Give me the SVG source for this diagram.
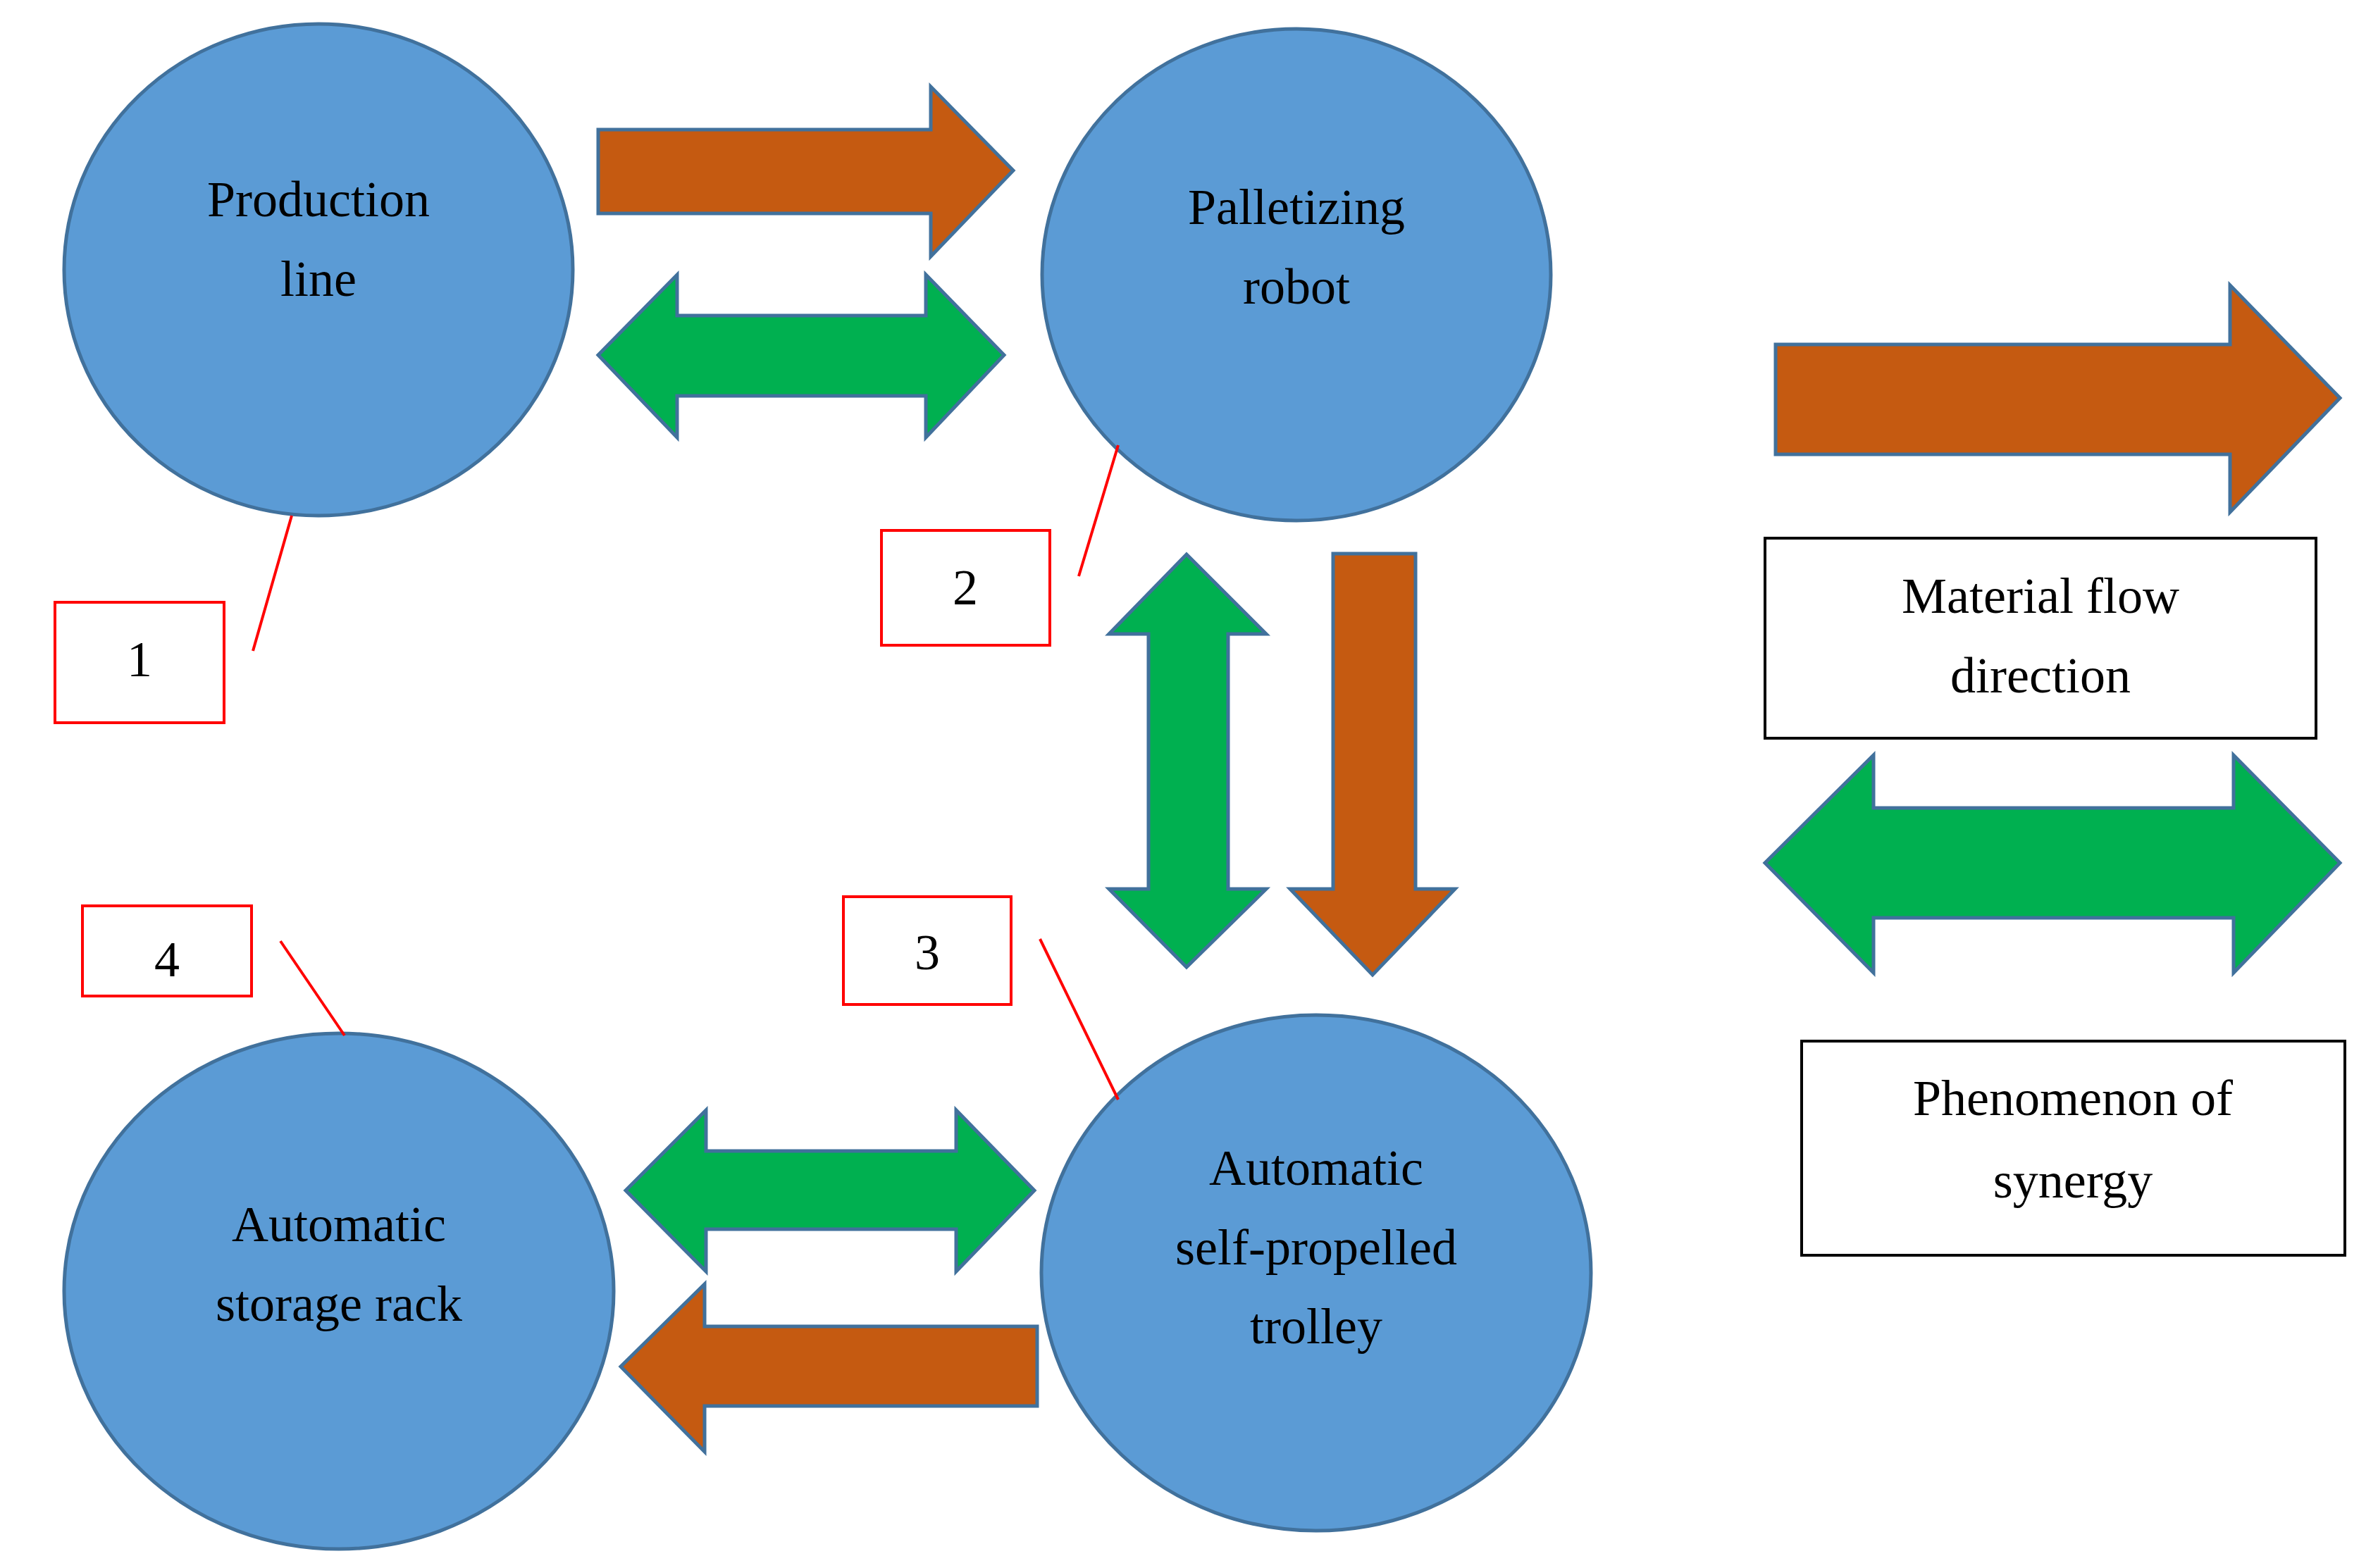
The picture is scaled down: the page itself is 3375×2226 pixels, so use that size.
<svg xmlns="http://www.w3.org/2000/svg" width="3375" height="2226" viewBox="0 0 3375 2226">
<style>
.n{fill:#5B9BD5;stroke:#41719C;stroke-width:5}
.b{fill:#C55A11;stroke:#41719C;stroke-width:5}
.g{fill:#00B050;stroke:#41719C;stroke-width:5}
.t{font-family:"Liberation Serif",serif;font-size:72px;text-anchor:middle;dominant-baseline:central;fill:#000}
.r{fill:#fff;stroke:#FF0000;stroke-width:4}
.l{stroke:#FF0000;stroke-width:4}
.k{fill:#fff;stroke:#000;stroke-width:4}
</style>
<rect width="3375" height="2226" fill="#fff"/>
<g id="n1"><ellipse class="n" cx="452" cy="383" rx="361" ry="349"/><text class="t" x="452" y="283">Production</text><text class="t" x="452" y="396">line</text></g>
<g id="n2"><ellipse class="n" cx="1840" cy="390" rx="361" ry="349"/><text class="t" x="1840" y="294">Palletizing</text><text class="t" x="1840" y="407">robot</text></g>
<g id="n3"><ellipse class="n" cx="1868" cy="1807" rx="390" ry="366"/><text class="t" x="1868" y="1658">Automatic</text><text class="t" x="1868" y="1771">self-propelled</text><text class="t" x="1868" y="1883">trolley</text></g>
<g id="n4"><ellipse class="n" cx="481" cy="1833" rx="390" ry="366"/><text class="t" x="481" y="1738">Automatic</text><text class="t" x="481" y="1851">storage rack</text></g>
<g id="connectors">
<polygon class="b" points="849,184 1321,184 1321,123 1438,242 1321,364 1321,303 849,303"/>
<polygon class="g" points="849,504 961,390 961,448 1314,448 1314,390 1425,504 1314,621 1314,562 961,562 961,621"/>
<polygon class="g" points="1684,787 1797,900 1743,900 1743,1262 1797,1262 1684,1373 1574,1262 1630,1262 1630,900 1574,900"/>
<polygon class="b" points="1892,786 2009,786 2009,1262 2065,1262 1948,1384 1831,1262 1892,1262"/>
<polygon class="g" points="888,1690 1002,1576 1002,1634 1357,1634 1357,1576 1468,1690 1357,1805 1357,1745 1002,1745 1002,1805"/>
<polygon class="b" points="1472,1883 1000,1883 1000,1823 881,1940 1000,2061 1000,1996 1472,1996"/>
<line class="l" x1="359" y1="924" x2="414" y2="732"/>
<line class="l" x1="1531" y1="818" x2="1587" y2="632"/>
<line class="l" x1="1476" y1="1333" x2="1587" y2="1561"/>
<line class="l" x1="398" y1="1336" x2="489" y2="1470"/>
</g>
<g id="label1"><rect class="r" x="78" y="855" width="240" height="171"/><text class="t" x="198" y="936" font-size="66">1</text></g>
<g id="label2"><rect class="r" x="1251" y="753" width="239" height="163"/><text class="t" x="1370" y="834" font-size="66">2</text></g>
<g id="label3"><rect class="r" x="1197" y="1273" width="238" height="153"/><text class="t" x="1316" y="1352" font-size="66">3</text></g>
<g id="label4"><rect class="r" x="117" y="1286" width="240" height="128"/><text class="t" x="237" y="1362" font-size="66">4</text></g>
<g id="legend">
<polygon class="b" points="2520,489 3165,489 3165,405 3321,565 3165,727 3165,645 2520,645"/>
<rect class="k" x="2505" y="764" width="782" height="284"/>
<text class="t" x="2896" y="846">Material flow</text><text class="t" x="2896" y="959">direction</text>
<polygon class="g" points="2505,1225 2659,1072 2659,1147 3170,1147 3170,1072 3321,1225 3170,1381 3170,1303 2659,1303 2659,1381"/>
<rect class="k" x="2557" y="1478" width="771" height="304"/>
<text class="t" x="2942" y="1559">Phenomenon of</text><text class="t" x="2942" y="1676">synergy</text>
</g>
</svg>
